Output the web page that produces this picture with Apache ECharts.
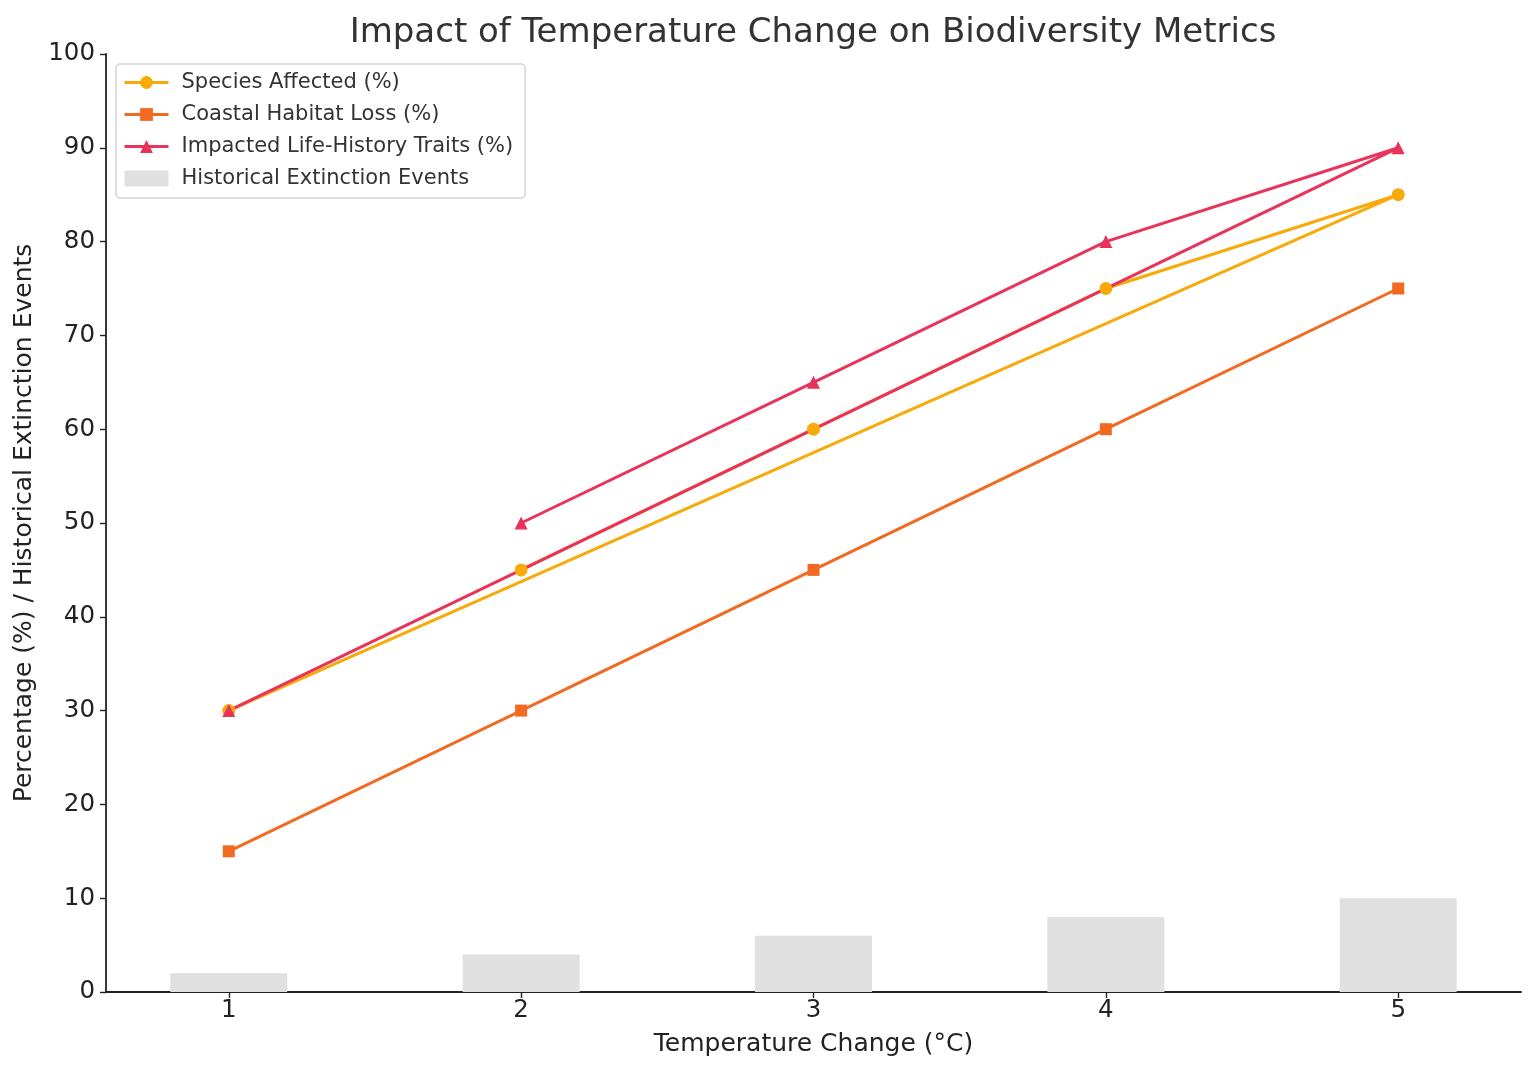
<!DOCTYPE html>
<html>
<head>
<meta charset="utf-8">
<script src="https://cdn.jsdelivr.net/npm/echarts@6/dist/echarts.min.js"></script>
<style>
  html, body { margin: 0; padding: 0; background: #fff; }
  #main { width: 1536px; height: 1073px; }
</style>
</head>
<body>
<div id="main"></div>
<script>
const chart = echarts.init(document.getElementById('main'))

// x order as plotted (the source drew the 1 °C point last, so the path closes back to it)
const tempOrder = [2, 3, 4, 5, 1]
const speciesAffected = [45, 60, 75, 85, 30]
const coastalLoss = [30, 45, 60, 75, 15]
const lifeHistory = [50, 65, 80, 90, 30]

const barTemps = [1, 2, 3, 4, 5]
const extinctionEvents = [2, 4, 6, 8, 10]
const xTicks = [1, 2, 3, 4, 5]

const pair = (xs, ys) => xs.map((x, i) => [x, ys[i]])
const font = 'DejaVu Sans'

const lineSeries = (name, data, color, symbol, size) => ({
  name: name,
  type: 'line',
  data: pair(tempOrder, data),
  symbol: symbol,
  symbolSize: size,
  showSymbol: true,
  lineStyle: { color: color, width: 3 },
  itemStyle: { color: color },
  z: 3
})

let option = {
  animation: false,
  backgroundColor: '#fff',
  title: {
    text: 'Impact of Temperature Change on Biodiversity Metrics',
    left: 808,
    top: 11,
    textAlign: 'center',
    textStyle: { color: '#333', fontSize: 34, fontWeight: 'normal', fontFamily: font }
  },
  grid: { left: 106, right: 15, top: 54, bottom: 81, containLabel: false },
  legend: {
    orient: 'vertical',
    left: 116,
    top: 64,
    padding: [8, 12, 9, 7],
    itemGap: 11,
    itemWidth: 44,
    itemHeight: 16,
    borderColor: '#d4d4d4',
    borderWidth: 1.5,
    borderRadius: 4,
    backgroundColor: '#fff',
    lineStyle: { width: 3 },
    textStyle: { color: '#333', fontSize: 21, fontFamily: font, padding: [0, 0, 0, 8] },
    data: [
      { name: 'Species Affected (%)' },
      { name: 'Coastal Habitat Loss (%)' },
      { name: 'Impacted Life-History Traits (%)' },
      { name: 'Historical Extinction Events', icon: 'rect', itemStyle: { color: '#e0e0e0' } }
    ]
  },
  xAxis: {
    type: 'value',
    min: 0.58,
    max: 5.42,
    name: 'Temperature Change (°C)',
    nameLocation: 'middle',
    nameGap: 40,
    nameTextStyle: { color: '#222', fontSize: 25, fontFamily: font },
    splitLine: { show: false },
    axisLine: { show: true, lineStyle: { color: '#222', width: 1.8 } },
    axisTick: { show: true, customValues: xTicks, length: 6, lineStyle: { color: '#222', width: 1.4 } },
    axisLabel: { customValues: xTicks, color: '#222', fontSize: 24.5, fontFamily: font, margin: 6 }
  },
  yAxis: {
    type: 'value',
    min: 0,
    max: 100,
    interval: 10,
    name: 'Percentage (%) / Historical Extinction Events',
    nameLocation: 'middle',
    nameGap: 67,
    nameTextStyle: { color: '#222', fontSize: 25, fontFamily: font },
    splitLine: { show: false },
    axisLine: { show: true, lineStyle: { color: '#222', width: 1.8 } },
    axisTick: { show: true, length: 6, lineStyle: { color: '#222', width: 1.4 } },
    axisLabel: { color: '#222', fontSize: 24.5, fontFamily: font, margin: 11 }
  },
  series: [
    {
      name: 'Historical Extinction Events',
      type: 'custom',
      data: pair(barTemps, extinctionEvents),
      itemStyle: { color: '#e0e0e0' },
      z: 1,
      renderItem: (params, api) => {
        const x = api.value(0)
        const y = api.value(1)
        const topLeft = api.coord([x - 0.2, y])
        const bottomRight = api.coord([x + 0.2, 0])
        return {
          type: 'rect',
          shape: {
            x: topLeft[0],
            y: topLeft[1],
            width: bottomRight[0] - topLeft[0],
            height: bottomRight[1] - topLeft[1]
          },
          style: { fill: '#e0e0e0' }
        }
      }
    },
    lineSeries('Species Affected (%)', speciesAffected, '#f7aa0a', 'circle', 13),
    lineSeries('Coastal Habitat Loss (%)', coastalLoss, '#f26a22', 'rect', 12),
    lineSeries('Impacted Life-History Traits (%)', lifeHistory, '#e8335a', 'triangle', 13)
  ]
}
chart.setOption(option)
</script>
</body>
</html>
